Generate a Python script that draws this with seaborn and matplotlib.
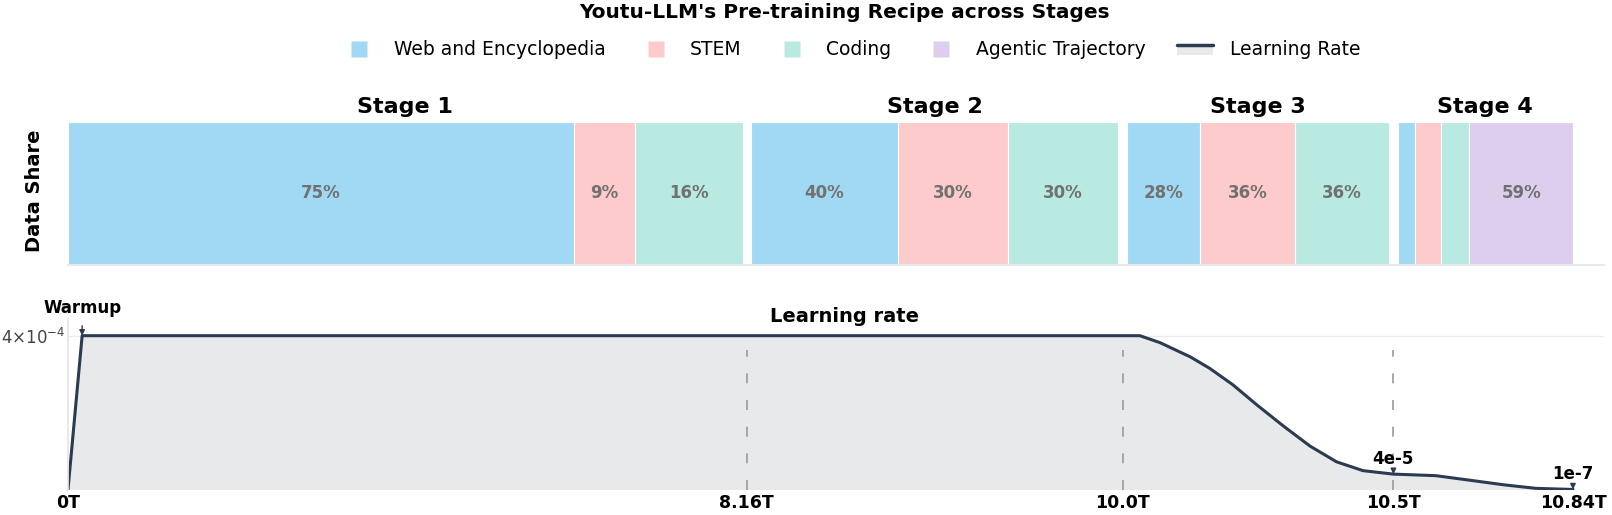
import numpy as np
import matplotlib
matplotlib.use("Agg")
import matplotlib.pyplot as plt
import seaborn as sns
from matplotlib.lines import Line2D
from matplotlib.patches import Rectangle
from matplotlib.legend_handler import HandlerBase

# ---- data ----
stages = ["Stage 1", "Stage 2", "Stage 3", "Stage 4"]
stage_bounds = [0, 8.16, 10.0, 10.5, 10.84]          # trillions of tokens
categories = ["Web and Encyclopedia", "STEM", "Coding", "Agentic Trajectory"]
web = [75, 40, 28, 10]
stem = [9, 30, 36, 15]
coding = [16, 30, 36, 16]
agentic = [0, 0, 0, 59]
colors = ["#a1d8f3", "#fdcbcb", "#b8eae1", "#ddceee"]

lr_tokens = [0, 0.17, 10.0, 10.032, 10.069, 10.125, 10.161, 10.204, 10.248,
             10.297, 10.346, 10.395, 10.444, 10.5, 10.58, 10.64, 10.71, 10.77, 10.84]
lr_values = [0, 4e-4, 4e-4, 4e-4, 3.82e-4, 3.45e-4, 3.15e-4, 2.72e-4, 2.2e-4,
             1.65e-4, 1.13e-4, 0.72e-4, 0.49e-4, 4e-5, 3.6e-5, 2.5e-5, 1.2e-5, 3e-6, 1e-7]
tick_tokens = [0, 8.16, 10.0, 10.5, 10.84]
tick_labels = ["0T", "8.16T", "10.0T", "10.5T", "10.84T"]
notes = [(0.17, 4e-4, "Warmup", 20), (10.5, 4e-5, "4e-5", 11), (10.84, 1e-7, "1e-7", 11)]

navy = "#2c3b50"
fill_c = "#e8e9eb"

# warped x axis: each stage gets a fixed share of the width
knot_t = [-1, 0, 8.16, 10.0, 10.5, 10.84, 12.0]
knot_f = [-0.0553, 0, 0.451, 0.7007, 0.8807, 1.0, 1.407]


def fwd(t):
    return np.interp(t, knot_t, knot_f)


def inv(f):
    return np.interp(f, knot_f, knot_t)


x_end = 1.0203

sns.set_theme(style="white")
plt.rcParams["font.family"] = ["DejaVu Sans"]
plt.rcParams["text.color"] = "black"
plt.rcParams["xtick.color"] = "black"

W, H = 1612, 515
fig = plt.figure(figsize=(W / 100, H / 100), dpi=100)
left, width = 68 / W, (1603.5 - 68) / W
ax_top = fig.add_axes([left, (H - 264.5) / H, width, 142.8 / H])
ax_lr = fig.add_axes([left, (H - 489.5) / H, width, 170.5 / H])

# ---- stage bars ----
shares = np.array([web, stem, coding, agentic], dtype=float)
gap = 4.15 / 1505
for i, st in enumerate(stages):
    s = fwd(stage_bounds[i]) + (gap if i > 0 else 0)
    e = fwd(stage_bounds[i + 1]) - (gap if i < len(stages) - 1 else 0)
    col = shares[:, i]
    col = col / col.sum()
    start = s
    for j, frac in enumerate(col):
        if frac <= 0:
            continue
        w = frac * (e - s)
        ax_top.barh(0.5, w, left=start, height=1.0, color=colors[j],
                    edgecolor="white", linewidth=0.8)
        if w > 0.03:
            ax_top.text(start + w / 2, 0.5, f"{int(shares[j, i])}%", ha="center",
                        va="center", fontsize=12, fontweight="bold", color="#717171")
        start += w
    ax_top.text((s + e) / 2, 1.105, st, ha="center", va="center", fontsize=16,
                fontweight="bold", color="black", clip_on=False)

ax_top.set_xlim(0, x_end)
ax_top.set_ylim(0, 1)
ax_top.set_xticks([])
ax_top.set_yticks([])
for sp in ["top", "left", "right"]:
    ax_top.spines[sp].set_visible(False)
ax_top.spines["bottom"].set_color("#e6e9f0")
ax_top.spines["bottom"].set_linewidth(1.5)

# ---- learning rate ----
ax_lr.set_xscale("function", functions=(fwd, inv))
ax_lr.fill_between(lr_tokens, lr_values, 0, color=fill_c, lw=0)
sns.lineplot(x=lr_tokens, y=lr_values, ax=ax_lr, color=navy, linewidth=2.2,
             sort=False, estimator=None)
ax_lr.axhline(4e-4, color="#ececec", lw=1, zorder=0)
for t in tick_tokens[1:4]:
    ax_lr.axvline(t, ymax=0.818, color="#9a9a9a", lw=1.2, ls=(0, (6, 10)))

for x, y, txt, off in notes:
    ax_lr.annotate(txt, xy=(x, y), xytext=(0, off), textcoords="offset points",
                   ha="center", va="center", fontsize=12, fontweight="bold",
                   arrowprops=dict(arrowstyle="-|>", color=navy, lw=1,
                                   mutation_scale=8, shrinkA=4, shrinkB=0))

ax_lr.set_xlim(0, inv(x_end))
ax_lr.set_ylim(0, 4.434e-4)
ax_lr.set_xticks(tick_tokens)
ax_lr.set_xticklabels(tick_labels, fontsize=12.5, fontweight="bold")
ax_lr.set_yticks([4e-4])
ax_lr.set_yticklabels([r"$4{\times}10^{-4}$"], fontsize=12, color="#444444")
ax_lr.tick_params(axis="x", length=0, pad=3)
ax_lr.tick_params(axis="y", length=0, pad=2)
for sp in ["top", "right", "bottom"]:
    ax_lr.spines[sp].set_visible(False)
ax_lr.spines["left"].set_color("#e6e6e6")
ax_lr.set_xlabel("")
ax_lr.set_ylabel("")

# ---- titles ----
fig.text(845 / W, 1 - 12.5 / H, "Youtu-LLM's Pre-training Recipe across Stages",
         ha="center", va="center", fontsize=14.5, fontweight="bold")
fig.text(845 / W, 1 - 317 / H, "Learning rate", ha="center", va="center",
         fontsize=14, fontweight="bold")
fig.text(34 / W, 1 - 191 / H, "Data Share", ha="center", va="center",
         rotation=90, fontsize=14, fontweight="bold")


class FillLineHandler(HandlerBase):
    def create_artists(self, legend, orig_handle, xdescent, ydescent,
                       width, height, fontsize, trans):
        h = height * 0.8
        rect = Rectangle((-xdescent, -ydescent), width, h, facecolor=fill_c,
                         edgecolor="none", transform=trans)
        line = Line2D([-xdescent, -xdescent + width], [-ydescent + h] * 2,
                      color=navy, lw=2.5, transform=trans)
        return [rect, line]


handles = [Line2D([], [], marker="s", ls="", markersize=12, markerfacecolor=c,
                  markeredgecolor="none") for c in colors]
lr_handle = object()
handles.append(lr_handle)
fig.legend(handles, categories + ["Learning Rate"], loc="center",
           bbox_to_anchor=(851 / W, 1 - 49.7 / H), ncol=5, frameon=False,
           fontsize=13.5, handlelength=1.9, handletextpad=0.9, columnspacing=1.7,
           handler_map={lr_handle: FillLineHandler()})

fig.savefig("out.png", dpi=100)
